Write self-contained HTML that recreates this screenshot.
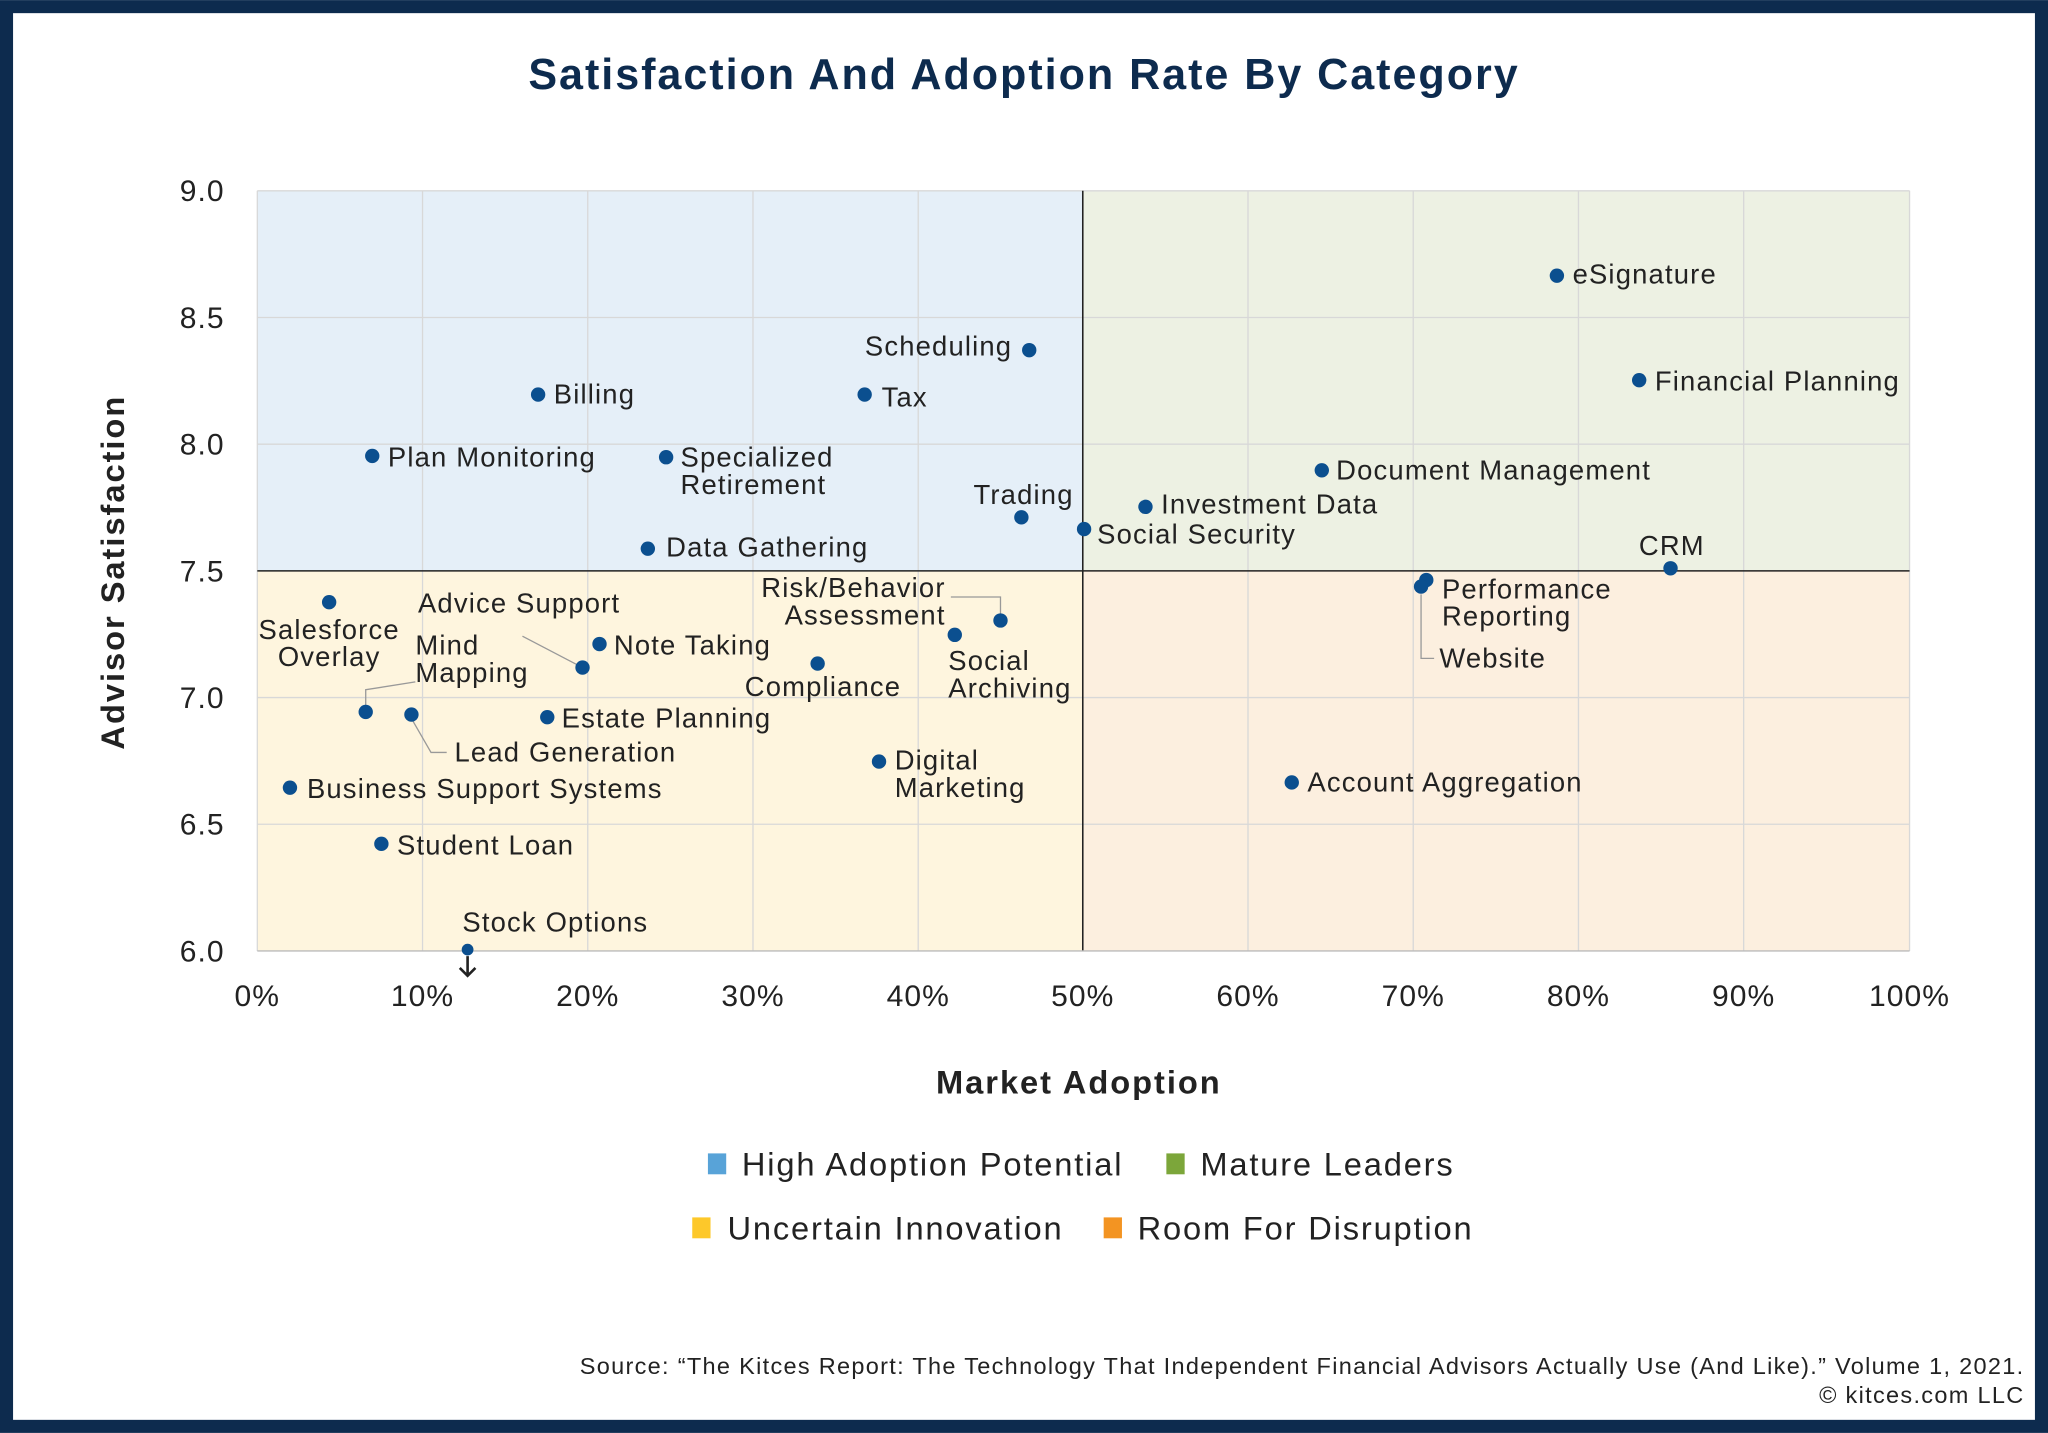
<!DOCTYPE html>
<html><head><meta charset="utf-8"><style>
html,body{margin:0;padding:0;background:#fff}
svg{display:block}
text{font-family:"Liberation Sans",sans-serif;fill:#222}
</style></head><body>
<svg width="2048" height="1433" viewBox="0 0 1568 1097" xmlns="http://www.w3.org/2000/svg">
<rect x="0" y="0" width="1568" height="1097" fill="#fff"/>
<rect x="5" y="5" width="1558" height="1087" fill="none" stroke="#0d2b4e" stroke-width="10"/>
<text x="784" y="68" text-anchor="middle" font-size="33" font-weight="bold" letter-spacing="1.5" style="fill:#0d2b4e">Satisfaction And Adoption Rate By Category</text>
<rect x="197" y="146" width="632" height="291" fill="#e5eff8"/>
<rect x="829" y="146" width="633" height="291" fill="#edf1e3"/>
<rect x="197" y="437" width="632" height="291" fill="#fef5de"/>
<rect x="829" y="437" width="633" height="291" fill="#fcefdf"/>
<g stroke="#d8d8d8" stroke-width="1">
<line x1="323.5" y1="146" x2="323.5" y2="728"/><line x1="450" y1="146" x2="450" y2="728"/>
<line x1="576.5" y1="146" x2="576.5" y2="728"/><line x1="703" y1="146" x2="703" y2="728"/>
<line x1="955.5" y1="146" x2="955.5" y2="728"/><line x1="1082" y1="146" x2="1082" y2="728"/>
<line x1="1208.5" y1="146" x2="1208.5" y2="728"/><line x1="1335" y1="146" x2="1335" y2="728"/>
<line x1="1462" y1="146" x2="1462" y2="728"/>
<line x1="197" y1="146" x2="1462" y2="146"/><line x1="197" y1="243" x2="1462" y2="243"/>
<line x1="197" y1="340" x2="1462" y2="340"/><line x1="197" y1="534" x2="1462" y2="534"/>
<line x1="197" y1="631" x2="1462" y2="631"/><line x1="197" y1="146" x2="197" y2="728"/>
</g>
<line x1="829" y1="146" x2="829" y2="728" stroke="#222" stroke-width="1.2"/>
<line x1="197" y1="437" x2="1462" y2="437" stroke="#222" stroke-width="1.2"/>
<line x1="197" y1="728" x2="1462" y2="728" stroke="#bbb" stroke-width="1"/>
<g font-size="23" text-anchor="end" letter-spacing="0.8">
<text x="172" y="154">9.0</text><text x="172" y="251">8.5</text><text x="172" y="348">8.0</text>
<text x="172" y="445">7.5</text><text x="172" y="542">7.0</text><text x="172" y="639">6.5</text><text x="172" y="736">6.0</text>
</g>
<g font-size="23" text-anchor="middle" letter-spacing="0.8">
<text x="197" y="770">0%</text><text x="323.5" y="770">10%</text><text x="450" y="770">20%</text>
<text x="576.5" y="770">30%</text><text x="703" y="770">40%</text><text x="829" y="770">50%</text>
<text x="955.5" y="770">60%</text><text x="1082" y="770">70%</text><text x="1208.5" y="770">80%</text>
<text x="1335" y="770">90%</text><text x="1462" y="770">100%</text>
</g>
<text x="826" y="837" text-anchor="middle" font-size="25" font-weight="bold" letter-spacing="1.5">Market Adoption</text>
<text transform="translate(95,438) rotate(-90)" text-anchor="middle" font-size="25" font-weight="bold" letter-spacing="1.5">Advisor Satisfaction</text>
<g stroke="#999" stroke-width="1" fill="none">
<polyline points="728,457 766,457 766,470"/>
<polyline points="400,487 446,511"/>
<polyline points="318,522 280,528 280,540"/>
<polyline points="315,550 330,576 342,576"/>
<polyline points="1088,455 1088,504 1098,504"/>
</g>
<path d="M358,732 L358,746 M352,741 L358,747 L364,741" stroke="#222" stroke-width="2" fill="none"/>
<g fill="#0b4f8f">
<circle cx="1192" cy="211" r="5.5"/><circle cx="1255" cy="291" r="5.5"/><circle cx="1012" cy="360" r="5.5"/>
<circle cx="877" cy="388" r="5.5"/><circle cx="830" cy="405" r="5.5"/><circle cx="1279" cy="435" r="5.5"/>
<circle cx="1092" cy="444" r="5.5"/><circle cx="1088" cy="449" r="5.5"/><circle cx="989" cy="599" r="5.5"/>
<circle cx="788" cy="268" r="5.5"/><circle cx="412" cy="302" r="5.5"/><circle cx="662" cy="302" r="5.5"/>
<circle cx="285" cy="349" r="5.5"/><circle cx="510" cy="350" r="5.5"/><circle cx="782" cy="396" r="5.5"/>
<circle cx="496" cy="420" r="5.5"/><circle cx="252" cy="461" r="5.5"/><circle cx="459" cy="493" r="5.5"/>
<circle cx="446" cy="511" r="5.5"/><circle cx="280" cy="545" r="5.5"/><circle cx="315" cy="547" r="5.5"/>
<circle cx="419" cy="549" r="5.5"/><circle cx="766" cy="475" r="5.5"/><circle cx="731" cy="486" r="5.5"/>
<circle cx="626" cy="508" r="5.5"/><circle cx="673" cy="583" r="5.5"/><circle cx="222" cy="603" r="5.5"/>
<circle cx="292" cy="646" r="5.5"/><circle cx="358" cy="727" r="4.5"/>
</g>
<g font-size="21" letter-spacing="0.9">
<text x="1204" y="217">eSignature</text>
<text x="1267" y="299">Financial Planning</text>
<text x="1023" y="367">Document Management</text>
<text x="889" y="393">Investment Data</text>
<text x="840" y="416">Social Security</text>
<text x="1280" y="425" text-anchor="middle">CRM</text>
<text x="1104" y="458">Performance</text><text x="1104" y="479">Reporting</text>
<text x="1102" y="511">Website</text>
<text x="1001" y="606">Account Aggregation</text>
<text x="775" y="272" text-anchor="end">Scheduling</text>
<text x="424" y="309">Billing</text>
<text x="675" y="311">Tax</text>
<text x="297" y="357">Plan Monitoring</text>
<text x="521" y="357">Specialized</text><text x="521" y="378">Retirement</text>
<text x="822" y="386" text-anchor="end">Trading</text>
<text x="510" y="426">Data Gathering</text>
<text x="252" y="489" text-anchor="middle">Salesforce</text><text x="252" y="510" text-anchor="middle">Overlay</text>
<text x="470" y="501">Note Taking</text>
<text x="320" y="469">Advice Support</text>
<text x="318" y="501">Mind</text><text x="318" y="522">Mapping</text>
<text x="348" y="583">Lead Generation</text>
<text x="430" y="557">Estate Planning</text>
<text x="724" y="457" text-anchor="end">Risk/Behavior</text><text x="724" y="478" text-anchor="end">Assessment</text>
<text x="726" y="513">Social</text><text x="726" y="534">Archiving</text>
<text x="690" y="533" text-anchor="end">Compliance</text>
<text x="685" y="589">Digital</text><text x="685" y="610">Marketing</text>
<text x="235" y="611">Business Support Systems</text>
<text x="304" y="654">Student Loan</text>
<text x="354" y="713">Stock Options</text>
</g>
<g font-size="25" letter-spacing="1.4">
<rect x="542" y="883" width="14" height="16" fill="#58a3d8"/><text x="568" y="900">High Adoption Potential</text>
<rect x="893" y="883" width="14" height="16" fill="#7ca63a"/><text x="919" y="900">Mature Leaders</text>
<rect x="530" y="932" width="14" height="16" fill="#fdc82a"/><text x="557" y="949">Uncertain Innovation</text>
<rect x="845" y="932" width="14" height="16" fill="#f39422"/><text x="871" y="949">Room For Disruption</text>
</g>
<g font-size="18" text-anchor="end" letter-spacing="1">
<text x="1550" y="1052">Source: “The Kitces Report: The Technology That Independent Financial Advisors Actually Use (And Like).” Volume 1, 2021.</text>
<text x="1550" y="1074">© kitces.com LLC</text>
</g>
</svg>
</body></html>
